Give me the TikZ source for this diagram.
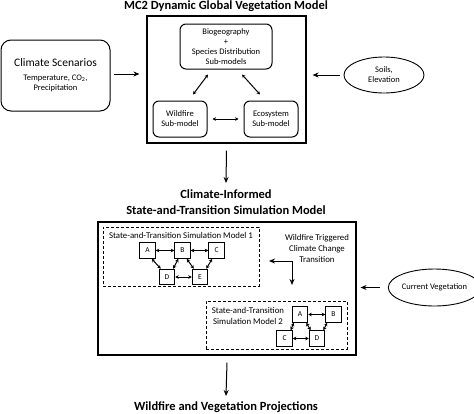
\documentclass[tikz,border=0pt]{standalone}
\usepackage{fontspec}
\setmainfont{Carlito}
\usetikzlibrary{positioning,arrows.meta,shapes.geometric,calc}

\begin{document}
\begin{tikzpicture}[x=1pt, y=-1pt,
    heading/.style={font=\bfseries\fontsize{12.5}{16}\selectfont, align=center},
    frame/.style={draw, line width=1.1pt, inner sep=0pt},
    submodel/.style={draw, line width=1pt, rounded corners=6pt, align=center, font=\fontsize{8.5}{10}\selectfont, inner sep=0pt},
    inputs/.style={draw, line width=0.9pt, ellipse, align=center, font=\fontsize{8.5}{10}\selectfont, inner sep=0pt},
    simbox/.style={draw, line width=1pt, dash pattern=on 3pt off 2pt, inner sep=0pt},
    state/.style={draw, line width=1pt, minimum size=15.5pt, inner sep=0pt, font=\fontsize{7.5}{9}\selectfont},
    flow/.style={-{Stealth[length=6pt,width=5pt]}, line width=1pt},
    link/.style={{Stealth[length=3.5pt,width=3.6pt]}-{Stealth[length=3.5pt,width=3.6pt]}, line width=1pt},
    small/.style={font=\fontsize{8.8}{11}\selectfont, align=center}]

    \useasboundingbox (0,0) rectangle (474,413);

    % ================= MC2 DGVM =================
    \node[heading] (title1) at (226,6) {MC2 Dynamic Global Vegetation Model};
    \node[frame, minimum width=159pt, minimum height=127pt] (dgvm) at (226.5,79.5) {};

    \node[submodel, minimum width=92pt, minimum height=45pt] (bio) at (226,46.5)
        {Biogeography\\+\\Species Distribution\\Sub-models};
    \node[submodel, minimum width=54pt, minimum height=36pt] (fire) at (180,119) {Wildfire\\Sub-model};
    \node[submodel, minimum width=54pt, minimum height=36pt] (eco) at (271,119) {Ecosystem\\Sub-model};

    \draw[link] ([xshift=-18pt,yshift=-5pt]bio.south) -- ([xshift=13pt,yshift=6pt]fire.north);
    \draw[link] ([xshift=16pt,yshift=-5pt]bio.south) -- ([xshift=-11pt,yshift=6pt]eco.north);
    \draw[link] ([xshift=5pt]fire.east) -- ([xshift=-5pt]eco.west);

    % Inputs
    \node[submodel, rounded corners=10pt, minimum width=109pt, minimum height=71pt] (climate) at (55.5,75.5)
        {{\fontsize{11.5}{13}\selectfont Climate Scenarios}\\[4pt]Temperature, CO\textsubscript{2},\\Precipitation};
    \node[inputs, minimum width=80pt, minimum height=36pt] (soils) at (384,75) {Soils,\\Elevation};

    \draw[flow] ([xshift=3pt]climate.east |- 0,74) -- ([xshift=-7pt]dgvm.west |- 0,74);
    \draw[flow] ([xshift=-4pt]soils.west) -- ([xshift=6pt]dgvm.east |- soils.west);

    % ================= STATE-AND-TRANSITION =================
    \node[heading] (title2) at (226,202) {Climate-Informed\\State-and-Transition Simulation Model};
    \draw[flow] ([yshift=-7pt]dgvm.south) -- ([yshift=3pt]title2.north);

    \node[frame, minimum width=258pt, minimum height=133pt] (stsm) at (227,288.5) {};

    % Simulation model 1
    \node[simbox, minimum width=156pt, minimum height=59pt] (stm1) at (181,256.5) {};
    \node[small] (lab1) at (181,235) {State-and-Transition Simulation Model 1};
    \node[state] (A) at (147.5,250.5) {A};
    \node[state] (B) at (182.5,250.5) {B};
    \node[state] (C) at (216.5,250.5) {C};
    \node[state] (D) at (167,277) {D};
    \node[state] (E) at (200,277) {E};
    \draw[link] (A) -- (B);
    \draw[link] (B) -- (C);
    \draw[link] (D) -- (E);
    \draw[link] ([xshift=-4pt]A.south east) -- ([xshift=2pt]D.north west);
    \draw[link] ([xshift=4pt]B.south west) -- ([xshift=-2pt]D.north east);
    \draw[link] ([xshift=-4pt]B.south east) -- ([xshift=2pt]E.north west);
    \draw[link] ([xshift=4pt]C.south west) -- ([xshift=-2pt]E.north east);

    % Transition between the two models
    \node[small] (trigger) at (317,248) {Wildfire Triggered\\Climate Change\\Transition};
    \coordinate (bend) at (292,261);
    \coordinate (trigL) at (269,261);
    \coordinate (trigD) at (292,285);
    \draw[flow] (bend) -- (trigL);
    \draw[flow] (bend) -- (trigD);

    % Simulation model 2
    \node[simbox, minimum width=141pt, minimum height=48pt] (stm2) at (276.5,325) {};
    \node[small] (lab2) at (248,315.5) {State-and-Transition\\Simulation Model 2};
    \node[state] (A2) at (300,314.5) {A};
    \node[state] (B2) at (333.5,314.5) {B};
    \node[state] (C2) at (284.5,338.5) {C};
    \node[state] (D2) at (317,338.5) {D};
    \draw[link] (A2) -- (B2);
    \draw[link] (C2) -- (D2);
    \draw[link] ([xshift=2pt]A2.south west) -- ([xshift=-2pt]C2.north east);
    \draw[link] ([xshift=-2pt]A2.south east) -- ([xshift=2pt]D2.north west);
    \draw[link] ([xshift=2pt]B2.south west) -- ([xshift=-2pt]D2.north east);

    % Current vegetation input
    \node[inputs, minimum width=80pt, minimum height=37pt] (veg) at (434.5,287.5) {Current Vegetation};
    \draw[flow] ([xshift=-8pt]veg.west) -- ([xshift=4pt]stsm.east |- veg.west);

    % ================= OUTPUT =================
    \node[heading] (result) at (226,407) {Wildfire and Vegetation Projections};
    \draw[flow] ([yshift=-7pt]stsm.south) -- ([yshift=2pt]result.north);

\end{tikzpicture}
\end{document}
